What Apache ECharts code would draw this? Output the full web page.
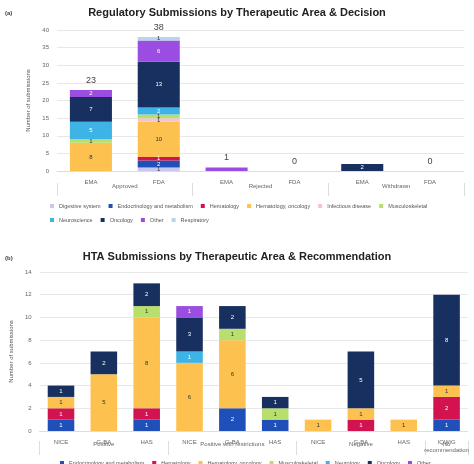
<!DOCTYPE html>
<html><head><meta charset="utf-8">
<script src="https://cdn.jsdelivr.net/npm/echarts@6/dist/echarts.min.js"></script>
<style>html,body{margin:0;background:#fff}#c{width:474px;height:464px}</style>
</head><body><div id="c"></div>
<script>
// panel a
const regCats = ["EMA", "FDA", "EMA", "FDA", "EMA", "FDA"];
const regGroups = ["Approved", "Rejected", "Withdrawn"];
const regNames = ["Digestive system", "Endocrinology and metabolism", "Hematology", "Hematology, oncology", "Infectious disease", "Musculoskeletal", "Neuroscience", "Oncology", "Other", "Respiratory"];
const regData = [
  [0, 1, 0, 0, 0, 0],
  [0, 2, 0, 0, 0, 0],
  [0, 1, 0, 0, 0, 0],
  [8, 10, 0, 0, 0, 0],
  [0, 1, 0, 0, 0, 0],
  [1, 1, 0, 0, 0, 0],
  [5, 2, 0, 0, 0, 0],
  [7, 13, 0, 0, 2, 0],
  [2, 6, 1, 0, 0, 0],
  [0, 1, 0, 0, 0, 0]
];
const regTotals = ["23", "38", "1", "0", "", "0"];
// panel b
const htaCats = ["NICE", "G-BA", "HAS", "NICE", "G-BA", "HAS", "NICE", "G-BA", "HAS", "IQWiG"];
const htaGroupLabels = ["", "Positive", "", "", "Positive with restrictions", "", "", "Negative", "", "No\nrecommendation"];
const htaNames = ["Endocrinology and metabolism", "Hematology", "Hematology, oncology", "Musculoskeletal", "Neurology", "Oncology", "Other"];
const htaData = [
  [1, 0, 1, 0, 2, 1, 0, 0, 0, 1],
  [1, 0, 1, 0, 0, 0, 0, 1, 0, 2],
  [1, 5, 8, 6, 6, 0, 1, 1, 1, 1],
  [0, 0, 1, 0, 1, 1, 0, 0, 0, 0],
  [0, 0, 0, 1, 0, 0, 0, 0, 0, 0],
  [1, 2, 2, 3, 2, 1, 0, 5, 0, 8],
  [0, 0, 0, 1, 0, 0, 0, 0, 0, 0]
];

const colorMap = {
  "Digestive system": "#c8c8ef",
  "Endocrinology and metabolism": "#1f4fb8",
  "Hematology": "#d3134f",
  "Hematology, oncology": "#fdc150",
  "Infectious disease": "#f5c4d2",
  "Musculoskeletal": "#b8df6c",
  "Neuroscience": "#3db3e6",
  "Neurology": "#3db3e6",
  "Oncology": "#17305f",
  "Other": "#9a4de0",
  "Respiratory": "#b7d5ee"
};
const lightText = ["Hematology, oncology", "Musculoskeletal", "Digestive system", "Infectious disease", "Respiratory"];

const chart = echarts.init(document.getElementById("c"));
const font = "Liberation Sans";
const axisLbl = { color: "#666", fontSize: 6, fontFamily: font };

function barSeries(names, data, xi, yi) {
  return names.map((n, i) => ({
    name: n, type: "bar", stack: "s" + xi, xAxisIndex: xi, yAxisIndex: yi,
    barWidth: "62%", data: data[i],
    itemStyle: { color: colorMap[n] },
    label: {
      show: true, fontSize: 6, fontFamily: font,
      color: lightText.includes(n) ? "#333" : "#fff",
      formatter: p => (p.value && !(xi === 0 && p.dataIndex === 2)) ? p.value : ""
    }
  }));
}

const series = barSeries(regNames, regData, 0, 0).concat(barSeries(htaNames, htaData, 2, 1));
series.push({
  type: "bar", stack: "s0", xAxisIndex: 0, yAxisIndex: 0, data: [0, 0, 0, 0, 0, 0],
  itemStyle: { color: "transparent" }, silent: true,
  label: { show: true, position: "top", color: "#444", fontFamily: font,
    formatter: p => regTotals[p.dataIndex],
    rich: {} , fontSize: 9 }
});

chart.setOption({
  animation: false,
  title: [
    { text: "Regulatory Submissions by Therapeutic Area & Decision", left: "center", top: 2,
      textStyle: { fontSize: 11, fontWeight: "bold", color: "#222", fontFamily: font } },
    { text: "(a)", left: 0, top: 5, textStyle: { fontSize: 6, fontWeight: "bold", fontFamily: font } },
    { text: "HTA Submissions by Therapeutic Area & Recommendation", left: "center", top: 246,
      textStyle: { fontSize: 11, fontWeight: "bold", color: "#222", fontFamily: font } },
    { text: "(b)", left: 0, top: 250, textStyle: { fontSize: 6, fontWeight: "bold", fontFamily: font } }
  ],
  legend: [
    { data: regNames, left: 45, right: 10, top: 198, itemWidth: 4, itemHeight: 4, itemGap: 8,
      icon: "rect", textStyle: { fontSize: 5.5, color: "#555", fontFamily: font }, width: 400 },
    { data: htaNames, left: 55, top: 455, itemWidth: 4, itemHeight: 4, itemGap: 8,
      icon: "rect", textStyle: { fontSize: 5.5, color: "#555", fontFamily: font } }
  ],
  grid: [
    { left: 57, right: 10, top: 30, height: 141 },
    { left: 35, right: 6, top: 272, height: 159 }
  ],
  xAxis: [
    { type: "category", gridIndex: 0, data: regCats, axisLabel: axisLbl,
      axisTick: { show: false }, axisLine: { lineStyle: { color: "#ddd" } } },
    { type: "category", gridIndex: 0, position: "bottom", offset: 12, data: regGroups,
      axisLine: { show: false }, axisTick: { show: true, length: 13, lineStyle: { color: "#ddd" } },
      axisLabel: { ...axisLbl, margin: 0 } },
    { type: "category", gridIndex: 1, data: htaCats, axisLabel: axisLbl,
      axisTick: { show: false }, axisLine: { lineStyle: { color: "#ddd" } } },
    { type: "category", gridIndex: 1, position: "bottom", offset: 10, data: htaCats,
      axisLine: { show: false },
      axisTick: { show: true, length: 14, lineStyle: { color: "#ddd" }, interval: i => i % 3 === 0 },
      axisLabel: { ...axisLbl, margin: 0, interval: 0, formatter: (v, i) => htaGroupLabels[i] } }
  ],
  yAxis: [
    { type: "value", gridIndex: 0, min: 0, max: 40, interval: 5, name: "Number of submissions",
      nameLocation: "middle", nameGap: 22, nameTextStyle: { fontSize: 6, color: "#555", fontFamily: font },
      axisLabel: axisLbl, splitLine: { lineStyle: { color: "#e8e8e8" } } },
    { type: "value", gridIndex: 1, min: 0, max: 14, interval: 2, name: "Number of submissions",
      nameLocation: "middle", nameGap: 18, nameTextStyle: { fontSize: 6, color: "#555", fontFamily: font },
      axisLabel: axisLbl, splitLine: { lineStyle: { color: "#e8e8e8" } } }
  ],
  series: series
});
</script></body></html>
